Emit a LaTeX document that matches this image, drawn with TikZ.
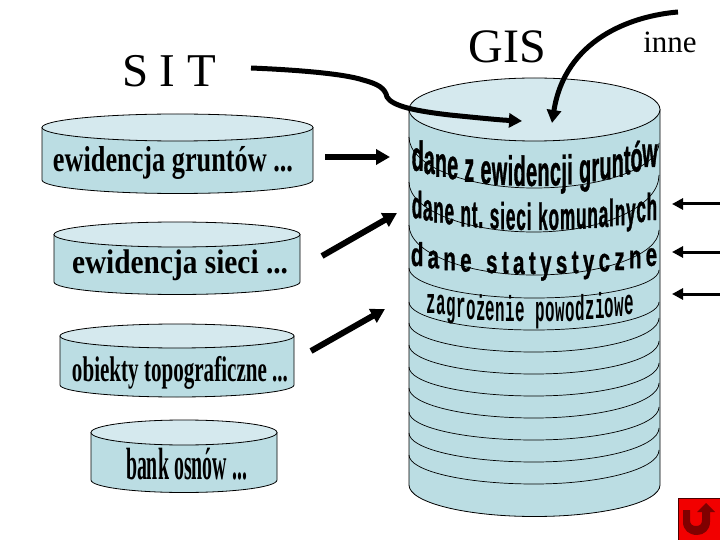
\documentclass[tikz,border=0pt]{standalone}
\usepackage{fontspec}
\setmainfont{Liberation Serif}
\newfontfamily\Ta[FakeStretch=0.47,BoldFeatures={FakeBold=0.8}]{Liberation Sans}
\newfontfamily\Tb[FakeStretch=0.45,BoldFeatures={FakeBold=0.8}]{Liberation Sans}
\newfontfamily\Tc[FakeStretch=0.62,BoldFeatures={FakeBold=0.8}]{Liberation Sans}
\newfontfamily\Td[FakeStretch=0.44]{Liberation Mono}
\usetikzlibrary{arrows.meta,decorations.text}
\definecolor{body}{HTML}{BBDDE3}
\definecolor{lid}{HTML}{D5E9EE}
\tikzset{
  curvearrow/.style={line width=5pt,-{Triangle[length=13pt,width=14pt]}},
  thickarrow/.style={line width=6pt,-{Triangle[length=14pt,width=15pt]}},
  thinarrow/.style={line width=3pt,-{Triangle[length=11pt,width=11pt]}},
  drumline/.style={draw=black,line width=0.8pt},
  band/.style={draw=black,line width=0.7pt},
  title/.style={inner sep=0pt,anchor=base},
  plate/.style={inner sep=0pt,anchor=center},
}
\newcommand\drum[5]{%
  \pgfmathsetmacro\rxx{(#2-#1)/2}%
  \path[drumline,fill=body] (#1,#3) -- (#1,#5)
     arc[start angle=180,end angle=360,x radius=\rxx pt,y radius=#4 pt] -- (#2,#3) -- cycle;
  \path[drumline,fill=lid] (#1,#3)
     arc[start angle=180,end angle=540,x radius=\rxx pt,y radius=#4 pt] -- cycle;
}
\newcommand\ring[3]{%
  \pgfmathsetmacro\ca{#1+0.55*(#2-#1)}%
  \pgfmathsetmacro\cb{#3+0.55*(#2-#3)}%
  \draw[band] (409,#1) .. controls (409,\ca) and (465,#2) .. (534,#2)
     .. controls (603,#2) and (659,\cb) .. (659,#3);
}
% left, mid, right baseline heights, x-left, x-right, text, font
\newcommand\arch[7]{%
  \pgfmathsetmacro\qa{#1+0.7*(#2-#1)}%
  \pgfmathsetmacro\qb{#3+0.7*(#2-#3)}%
  \pgfmathsetmacro\xm{(#4+#5)/2}%
  \pgfmathsetmacro\xa{#4+0.15*(#5-#4)}%
  \pgfmathsetmacro\xb{#4+0.32*(#5-#4)}%
  \pgfmathsetmacro\xc{#4+0.68*(#5-#4)}%
  \pgfmathsetmacro\xd{#4+0.85*(#5-#4)}%
  \path[decorate,decoration={text along path,text align=fit to path,
     transform={rotate=-\pgfdecoratedangle},
     text={|#7|#6}}]
     (#4,#1) .. controls (\xa,\qa) and (\xb,#2) .. (\xm,#2)
     .. controls (\xc,#2) and (\xd,\qb) .. (#5,#3);
}
\begin{document}
\begin{tikzpicture}[x=1pt,y=-1pt]
\useasboundingbox (0,0) rectangle (720,540);
\fill[white] (0,0) rectangle (720,540);

\drum{42}{313}{127.5}{13.5}{180}
\drum{54}{300}{234.5}{12.5}{282}
\drum{60}{294}{336}{12}{385}
\drum{91}{277}{432.5}{12.5}{480}
\drum{409}{660}{109.5}{31.5}{485}

\ring{137}{188}{143}
\ring{182}{232}{175}
\ring{225}{275}{230}
\ring{268}{298}{270}
\ring{302}{330}{302}
\ring{323}{352}{318}
\ring{345}{374}{341}
\ring{367}{396}{363}
\ring{388}{418}{383}
\ring{412}{440}{407}
\ring{433}{462}{428}
\ring{455}{484}{450}

\arch{169}{186}{164}{412}{657}{dane z ewidencji gruntów}{\fontsize{42}{42}\selectfont\Ta\bfseries}
\arch{217}{230}{219}{412}{657}{dane nt. sieci komunalnych}{\fontsize{38}{38}\selectfont\Tb\bfseries}
\arch{265}{274}{265}{411}{657}{dane statystyczne}{\fontsize{33}{33}\selectfont\Tc\bfseries}
\arch{312}{322}{314}{427}{634}{zagrożenie powodziowe}{\fontsize{36}{36}\selectfont\Td\bfseries}

\node[title] (sit) at (169,87) {\fontsize{47}{47}\selectfont S I T};
\node[title] (gis) at (507.5,63) {\fontsize{48}{48}\selectfont GIS};
\node[title] (inne) at (670,53) {\fontsize{31}{31}\selectfont inne};

\node[plate] (p1) at (173,163) {\resizebox*{240pt}{33pt}{\bfseries ewidencja gruntów ...}};
\node[plate] (p2) at (180,265) {\resizebox*{216pt}{31pt}{\bfseries ewidencja sieci ...}};
\node[plate] (p3) at (180,373) {\resizebox*{216pt}{33pt}{\bfseries obiekty topograficzne ...}};
\node[plate] (p4) at (186.5,464) {\resizebox*{121pt}{32pt}{\bfseries bank osnów ...}};

\coordinate (a1s) at (251,68);
\coordinate (a1e) at (522,121);
\coordinate (a2s) at (678,12);
\coordinate (a2e) at (552,123);
\draw[curvearrow] (a1s) .. controls (300,70) and (345,74) .. (363,80)
   .. controls (378,84) and (385,88) .. (387,97)
   .. controls (392,106) and (415,111) .. (450,115)
   .. controls (480,118) and (500,120) .. (a1e);
\draw[curvearrow] (a2s) .. controls (630,16) and (565,40) .. (a2e);

\coordinate (a3s) at (325,157);
\coordinate (a3e) at (390,157);
\coordinate (a4s) at (322,256);
\coordinate (a4e) at (397,213);
\coordinate (a5s) at (311,351);
\coordinate (a5e) at (385,309);
\draw[thickarrow] (a3s) -- (a3e);
\draw[thickarrow] (a4s) -- (a4e);
\draw[thickarrow] (a5s) -- (a5e);

\coordinate (r1s) at (720,204);
\coordinate (r1e) at (672,204);
\coordinate (r2s) at (720,252);
\coordinate (r2e) at (672,252);
\coordinate (r3s) at (720,294);
\coordinate (r3e) at (672,294);
\draw[thinarrow] (r1s) -- (r1e);
\draw[thinarrow] (r2s) -- (r2e);
\draw[thinarrow] (r3s) -- (r3e);

\fill[red!95!black,draw=black!70!red,line width=0.7pt] (678,498) rectangle (720,540);
\fill[red!50!black] (683,510) -- (690,510) -- (690,520)
   .. controls (690,524) and (692,526) .. (696,526)
   .. controls (700,526) and (702,524) .. (702,520)
   -- (702,512) -- (697,512) -- (706,503) -- (715,512) -- (710,512) -- (710,522)
   .. controls (710,530) and (704,535) .. (697,535)
   .. controls (689,535) and (683,530) .. (683,522) -- cycle;
\end{tikzpicture}
\end{document}
